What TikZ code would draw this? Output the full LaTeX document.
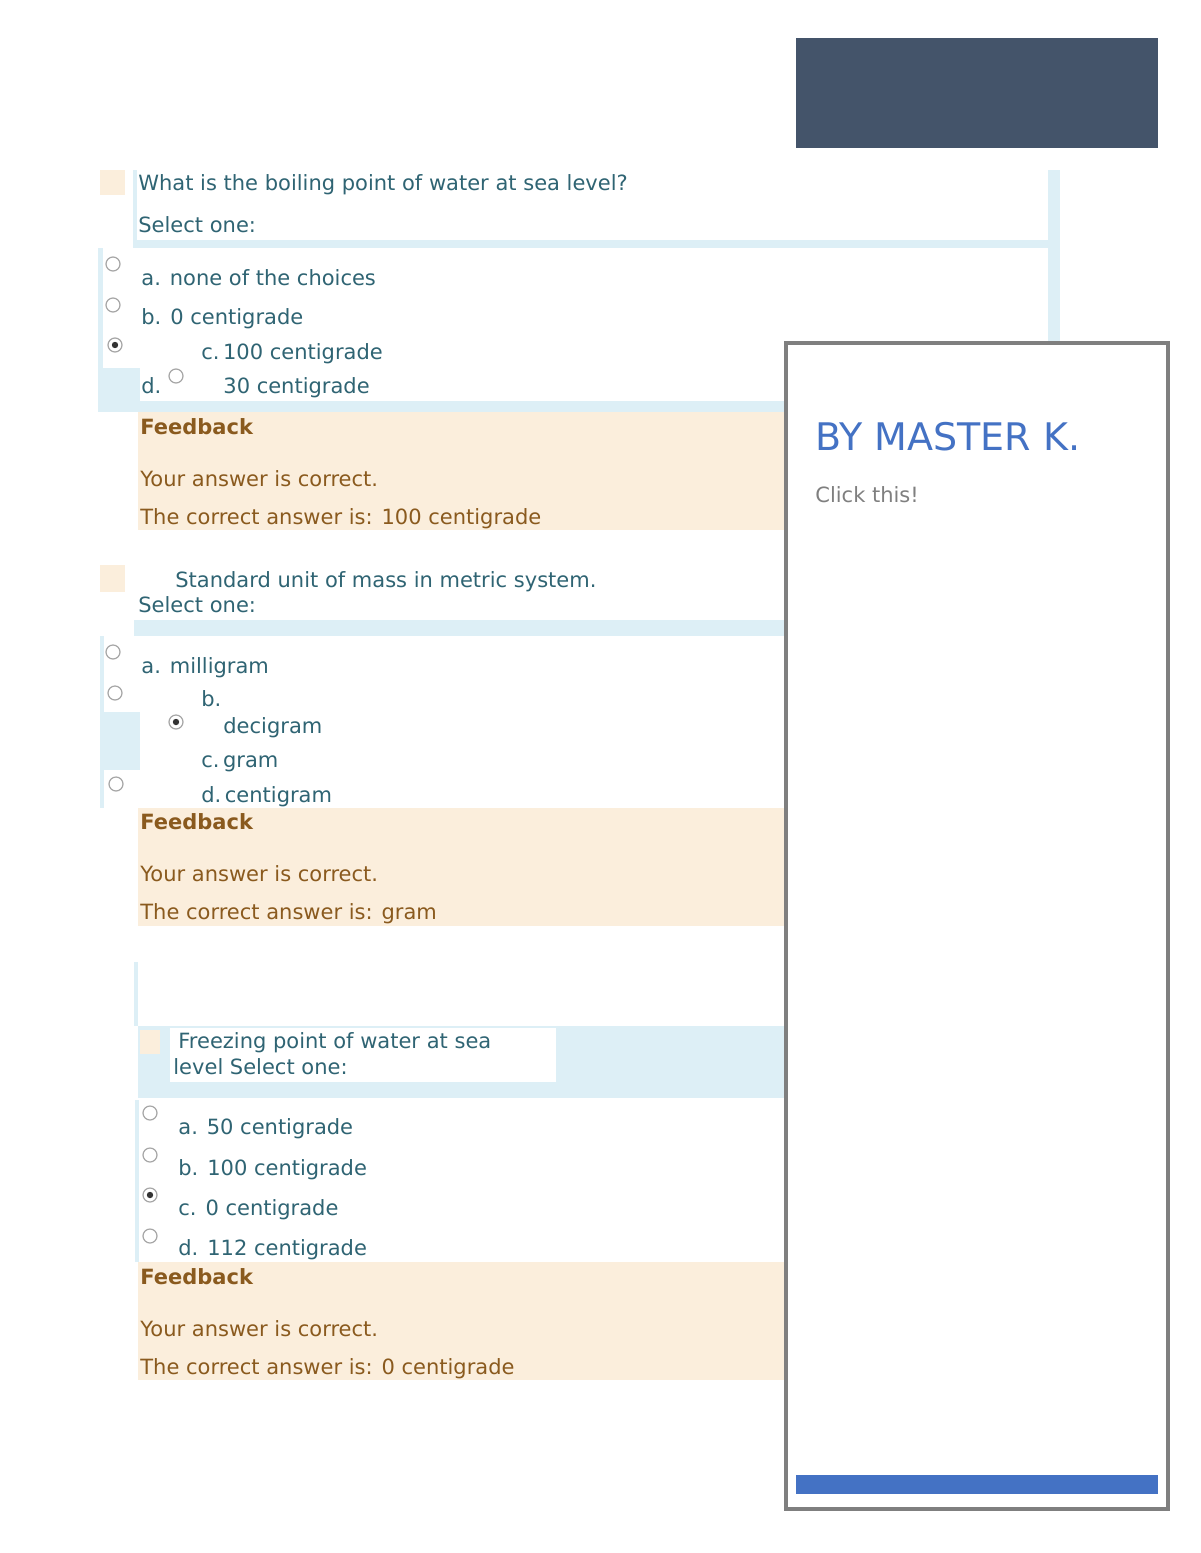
\documentclass[tikz,border=0pt]{standalone}
\usepackage{fontspec}
\setmainfont{DejaVu Sans}
\definecolor{txt}{HTML}{2F6473}
\definecolor{fbbg}{HTML}{FBEEDC}
\definecolor{fbtx}{HTML}{8A5A1E}
\definecolor{lb}{HTML}{DDEFF6}
\definecolor{dk}{HTML}{44546A}
\definecolor{bl}{HTML}{4472C4}
\definecolor{gr}{HTML}{7F7F7F}
\tikzset{
 t/.style={anchor=base west,inner sep=0,text=txt,font=\fontsize{10.5}{12}\selectfont},
 fb/.style={t,text=fbtx},
 fbh/.style={fb,font=\fontsize{10.5}{12}\selectfont\bfseries},
 radio/.style={circle,draw=gray!70,line width=0.6pt,fill=white,minimum size=7pt,inner sep=0},
}
\newcommand{\rad}[3]{\node[radio] (#1) at (#2) {}; \ifnum#3=1 \fill[black!80] (#2) circle (1.6pt);\fi}
\begin{document}
\begin{tikzpicture}[x=0.5pt,y=-0.5pt]
\useasboundingbox (0,0) rectangle (1200,1553);
\fill[white] (0,0) rectangle (1200,1553);
\fill[dk] (796,38) rectangle (1158,148);
% Q1
\fill[fbbg] (100,170) rectangle (125,195);
\fill[lb] (133,170) rectangle (137,240);
\fill[lb] (133,240) rectangle (1058,248);
\fill[lb] (1048,170) rectangle (1060,345);
\fill[lb] (98,248) rectangle (103,412);
\fill[lb] (98,368) rectangle (140,412);
\fill[lb] (98,401) rectangle (785,412);
\fill[fbbg] (138,412) rectangle (785,530);
\node[t] (q1) at (138,190) {What is the boiling point of water at sea level?};
\node[t] (s1) at (138,232) {Select one:};
\rad{r1a}{113,264}{0}\rad{r1b}{113,305}{0}\rad{r1c}{115,345}{1}\rad{r1d}{176,376}{0}
\node[t] at (141,285) {a. none of the choices};
\node[t] at (141,324) {b. 0 centigrade};
\node[t] at (201,359) {c.\,100 centigrade};
\node[t] at (141,393) {d.};
\node[t] at (223,393) {30 centigrade};
\node[fbh] at (140,434) {Feedback};
\node[fb] at (140,486) {Your answer is correct.};
\node[fb] at (140,524) {The correct answer is: 100 centigrade};
% Q2
\fill[fbbg] (100,565) rectangle (125,592);
\fill[lb] (134,620) rectangle (785,636);
\fill[lb] (100,636) rectangle (104,808);
\fill[lb] (100,712) rectangle (140,770);
\node[t] at (175,587) {Standard unit of mass in metric system.};
\node[t] at (138,612) {Select one:};
\rad{r2a}{113,652}{0}\rad{r2b}{115,693}{0}\rad{r2c}{176,722}{1}\rad{r2d}{116,784}{0}
\node[t] at (141,673) {a. milligram};
\node[t] at (201,706) {b.};
\node[t] at (223,733) {decigram};
\node[t] at (201,767) {c.\,gram};
\node[t] at (201,802) {d.\,centigram};
\fill[fbbg] (138,808) rectangle (785,926);
\node[fbh] at (140,829) {Feedback};
\node[fb] at (140,881) {Your answer is correct.};
\node[fb] at (140,919) {The correct answer is: gram};
% Q3
\fill[lb] (134,962) rectangle (138,1026);
\fill[lb] (138,1026) rectangle (785,1098);
\fill[white] (170,1028) rectangle (556,1082);
\fill[fbbg] (140,1030) rectangle (160,1054);
\node[t] at (178,1048) {Freezing point of water at sea};
\node[t] at (173,1074) {level Select one:};
\fill[lb] (135,1100) rectangle (139,1262);
\rad{r3a}{150,1113}{0}\rad{r3b}{150,1155}{0}\rad{r3c}{150,1195}{1}\rad{r3d}{150,1236}{0}
\node[t] at (178,1134) {a. 50 centigrade};
\node[t] at (178,1175) {b. 100 centigrade};
\node[t] at (178,1215) {c. 0 centigrade};
\node[t] at (178,1255) {d. 112 centigrade};
\fill[fbbg] (138,1262) rectangle (785,1380);
\node[fbh] at (140,1284) {Feedback};
\node[fb] at (140,1336) {Your answer is correct.};
\node[fb] at (140,1374) {The correct answer is: 0 centigrade};
% right panel
\draw[gr,line width=1.6pt,fill=white] (786,343) rectangle (1168,1509);
\fill[bl] (796,1475) rectangle (1158,1494);
\node[anchor=base west,inner sep=0,text=bl,font=\fontsize{19}{22}\selectfont] (title) at (815,450) {BY MASTER K.};
\node[t,text=gr] (click) at (815,502) {Click this!};
\end{tikzpicture}
\end{document}
